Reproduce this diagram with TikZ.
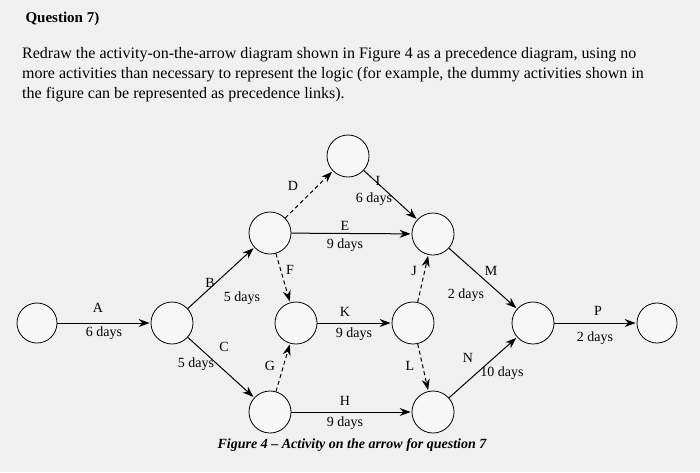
\documentclass[tikz,border=0pt]{standalone}
\usepackage{fontspec}
\setmainfont{Liberation Serif}
\usetikzlibrary{arrows.meta}
\begin{document}
\begin{tikzpicture}[x=1pt,y=-1pt,
  ev/.style={circle,draw,line width=0.8pt,minimum size=42pt,inner sep=0pt,fill=white!60!gray!15},
  act/.style={draw,line width=1pt,-{Stealth[length=11pt,width=8pt]},shorten >=1pt},
  dum/.style={act,dash pattern=on 4pt off 3pt},
  lbl/.style={font=\fontsize{14}{16}\selectfont,inner sep=0pt}]
\fill[gray!12] (0,0) rectangle (700,472);
\useasboundingbox (0,0) rectangle (700,472);
\node[anchor=west,font=\bfseries\fontsize{15}{17}\selectfont] (q) at (22,19) {Question 7)};
\node[anchor=north west,align=left,font=\fontsize{16}{20}\selectfont,inner sep=0pt] (para) at (22,47)
 {Redraw the activity-on-the-arrow diagram shown in Figure 4 as a precedence diagram, using no\\ more activities than necessary to represent the logic (for example, the dummy activities shown in\\ the figure can be represented as precedence links).};
\node[ev,minimum size=40pt] (n1) at (37,323) {};
\node[ev] (n2) at (172,323) {};
\node[ev] (n3) at (270,233) {};
\node[ev] (n4) at (348,156) {};
\node[ev] (n5) at (433,234) {};
\node[ev] (n6) at (296,323) {};
\node[ev] (n7) at (413,323) {};
\node[ev] (n8) at (270,412) {};
\node[ev] (n9) at (433,412) {};
\node[ev] (n10) at (533,323) {};
\node[ev,minimum size=40pt] (n11) at (657,323) {};
\draw[act] (n1) -- (n2);
\draw[act] (n2) -- (n3);
\draw[act] (n2) -- (n8);
\draw[dum] (n3) -- (n4);
\draw[act] (n4) -- (n5);
\draw[act] (n3) -- (n5);
\draw[dum] (n3) -- (n6);
\draw[dum] (n8) -- (n6);
\draw[act] (n6) -- (n7);
\draw[dum] (n7) -- (n5);
\draw[dum] (n7) -- (n9);
\draw[act] (n8) -- (n9);
\draw[act] (n5) -- (n10);
\draw[act] (n9) -- (n10);
\draw[act] (n10) -- (n11);
\node[lbl] (la) at (98,308) {A};
\node[lbl] (la2) at (104,333) {6 days};
\node[lbl] (lb) at (210,283) {B};
\node[lbl] (lb2) at (242,298) {5 days};
\node[lbl] (lc) at (224,347) {C};
\node[lbl] (lc2) at (196,364) {5 days};
\node[lbl] (ld) at (293,186) {D};
\node[lbl] (li) at (378,181) {I};
\node[lbl] (li2) at (374,199) {6 days};
\node[lbl] (le) at (345,226) {E};
\node[lbl] (le2) at (345,245) {9 days};
\node[lbl] (lf) at (290,270) {F};
\node[lbl] (lj) at (414,271) {J};
\node[lbl] (lm) at (491,271) {M};
\node[lbl] (lm2) at (466,295) {2 days};
\node[lbl] (lk) at (345,312) {K};
\node[lbl] (lk2) at (354,334) {9 days};
\node[lbl] (lg) at (270,366) {G};
\node[lbl] (ll) at (410,366) {L};
\node[lbl] (ln) at (468,358) {N};
\node[lbl] (ln2) at (502,373) {10 days};
\node[lbl] (lp) at (598,311) {P};
\node[lbl] (lp2) at (595,338) {2 days};
\node[lbl] (lh) at (345,401) {H};
\node[lbl] (lh2) at (345,423) {9 days};
\node[lbl,font=\bfseries\itshape\fontsize{14}{16}\selectfont] (cap) at (352,445) {Figure 4 -- Activity on the arrow for question 7};
\end{tikzpicture}
\end{document}
